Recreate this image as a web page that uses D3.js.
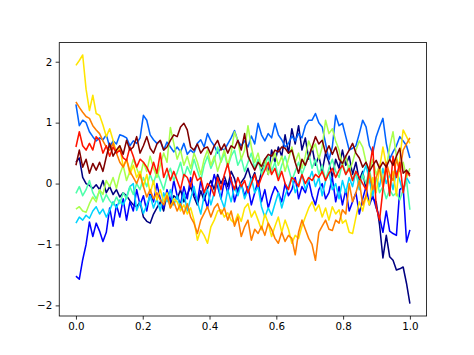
<!DOCTYPE html>
<html>
<head>
<meta charset="utf-8">
<script src="https://cdn.jsdelivr.net/npm/d3@7"></script>
<style>
  body { margin: 0; background: #fff; }
  .axis text { font-family: "DejaVu Sans", sans-serif; font-size: 10.3px; fill: #000; }
  .axis line { stroke: #000; stroke-width: 0.8px; }
</style>
</head>
<body>
<div id="chart"></div>
<script>
// tick labels
var xTicks = [0.0, 0.2, 0.4, 0.6, 0.8, 1.0];
var yTicks = [-2, -1, 0, 1, 2];

// jet colormap, one colour per line (drawn in this order)
var lineColors = ["#000080", "#0000ff", "#0063ff", "#00d4ff", "#4dffaa",
                  "#a9ff4d", "#ffe500", "#ff7d00", "#ff1400", "#800000"];

// 100 samples per line, x from 0 to 1
var navy = [0.35, 0.42, 0.10, 0.00, -0.03, -0.08, -0.02, -0.10, 0.05, -0.15,
  -0.05, -0.18, -0.10, -0.22, -0.15, -0.20, -0.28, -0.35, -0.38, -0.30,
  -0.55, -0.62, -0.65, -0.50, -0.40, -0.30, -0.45, -0.15, -0.35, -0.20,
  -0.25, -0.10, -0.30, -0.18, -0.05, -0.22, -0.35, -0.12, -0.28, -0.08,
  0.05, -0.10, 0.15, 0.00, 0.12, -0.05, 0.20, 0.08, -0.15, 0.02,
  0.10, 0.25, 0.05, 0.18, -0.05, 0.20, 0.40, 0.15, 0.55, 0.35,
  0.60, 0.45, 0.80, 0.50, 0.90, 0.65, 0.95, 0.55, 0.75, 0.40,
  0.60, 0.30, 0.45, 0.20, 0.50, 0.35, 0.10, 0.40, 0.25, 0.55,
  0.30, 0.45, 0.15, 0.35, 0.05, 0.20, -0.10, 0.15, -0.25, -0.30,
  -0.68, -1.22, -0.85, -1.20, -1.26, -1.42, -1.40, -1.37, -1.64, -1.97];

var blue = [-1.52, -1.57, -1.25, -1.00, -0.63, -0.87, -0.65, -0.78, -0.95, -0.80,
  -0.40, -0.70, -0.35, -0.55, -0.25, -0.60, -0.30, -0.45, -0.10, -0.35,
  -0.20, -0.45, -0.15, -0.30, 0.00, -0.25, -0.40, -0.10, -0.30, 0.05,
  -0.20, -0.35, -0.05, -0.25, 0.10, -0.15, -0.30, 0.05, -0.20, -0.40,
  -0.10, 0.15, -0.05, -0.25, 0.05, -0.15, 0.10, -0.30, -0.10, 0.00,
  -0.20, -0.05, -0.35, -0.15, 0.05, -0.30, -0.10, -0.40, -0.20, -0.05,
  -0.15, -0.30, 0.00, -0.20, -0.10, 0.10, -0.25, -0.05, -0.15, 0.05,
  -0.20, -0.35, -0.10, 0.00, -0.25, -0.15, 0.10, -0.30, -0.05, -0.35,
  -0.10, -0.45, -0.30, -0.15, -0.50, -0.25, -0.05, -0.35, -0.20, -0.40,
  -0.55, -0.80, -0.45, -0.78, -0.82, -0.85, -0.10, -0.05, -0.96, -0.76];

var azure = [1.30, 0.95, 1.04, 1.00, 0.85, 0.77, 0.70, 0.75, 0.72, 0.80,
  0.60, 0.70, 0.65, 0.80, 0.78, 0.75, 0.62, 0.70, 0.66, 0.75,
  1.12, 1.04, 0.80, 0.72, 0.66, 0.70, 0.55, 0.68, 0.60, 0.52,
  0.60, 0.52, 0.66, 0.48, 0.55, 0.50, 0.66, 0.72, 0.60, 0.82,
  0.70, 0.62, 0.50, 0.58, 0.55, 0.65, 0.75, 0.87, 0.70, 0.62,
  0.70, 0.60, 0.78, 0.65, 0.99, 0.80, 0.70, 0.82, 0.75, 0.99,
  0.80, 0.72, 0.60, 0.66, 0.78, 0.70, 0.82, 0.75, 0.95, 1.04,
  1.04, 1.15, 1.00, 0.93, 0.66, 0.39, 0.60, 1.12, 0.95, 0.99,
  0.77, 0.55, 0.58, 0.62, 0.82, 1.04, 0.93, 0.62, 0.50, 0.77,
  0.93, 1.07, 0.66, 0.40, 0.52, 0.62, 0.77, 0.70, 0.62, 0.42];

var cyan = [-0.65, -0.55, -0.60, -0.52, -0.57, -0.45, -0.38, -0.50, -0.42, -0.55,
  -0.44, -0.30, -0.40, -0.27, -0.35, -0.22, -0.05, 0.00, -0.44, -0.30,
  -0.49, -0.35, -0.20, -0.40, -0.25, -0.45, -0.15, -0.30, -0.10, -0.35,
  -0.20, -0.40, -0.15, -0.45, -0.25, -0.05, -0.30, -0.50, -0.20, -0.10,
  -0.35, -0.15, 0.05, -0.25, -0.40, -0.10, -0.30, -0.05, -0.20, 0.00,
  -0.25, -0.10, 0.09, -0.15, -0.05, -0.38, -0.55, -0.40, -0.52, -0.33,
  -0.15, -0.40, -0.20, -0.05, 0.10, -0.15, 0.00, 0.15, -0.10, 0.05,
  0.20, -0.05, 0.10, -0.20, 0.05, 0.20, -0.10, 0.00, -0.25, 0.05,
  -0.15, 0.10, -0.05, 0.20, -0.10, 0.15, 0.30, 0.05, -0.20, 0.10,
  -0.05, 0.25, 0.00, 0.15, -0.10, 0.20, 0.05, -0.15, 0.10, 0.00];

var aqua = [-0.16, -0.05, -0.20, -0.10, 0.05, -0.15, -0.25, -0.12, -0.30, -0.18,
  -0.28, -0.35, -0.22, -0.33, -0.15, -0.25, -0.05, -0.18, 0.00, -0.10,
  0.10, -0.05, 0.15, 0.00, 0.20, 0.05, -0.10, 0.12, 0.25, 0.05,
  0.18, 0.35, 0.10, 0.28, 0.15, 0.40, 0.22, 0.05, 0.30, 0.45,
  0.25, 0.38, 0.60, 0.35, 0.50, 0.27, 0.45, 0.55, 0.30, 0.42,
  0.20, 0.35, 0.50, 0.25, 0.40, 0.15, 0.30, 0.45, 0.20, 0.35,
  0.10, 0.30, 0.45, 0.25, 0.05, 0.20, 0.35, 0.15, 0.30, 0.50,
  0.25, 0.40, 0.15, 0.30, 0.05, 0.25, 0.40, 0.20, 0.10, 0.35,
  0.15, 0.30, 0.05, 0.20, -0.05, 0.15, 0.00, 0.25, -0.10, 0.10,
  -0.15, -0.05, -0.25, -0.10, -0.20, -0.15, -0.27, -0.10, 0.05, -0.43];

var lime = [-0.42, -0.38, -0.45, -0.47, -0.33, -0.22, -0.30, -0.10, -0.18, 0.05,
  -0.05, 0.10, -0.08, 0.15, 0.30, 0.05, 0.20, 0.40, 0.25, 0.10,
  0.35, 0.20, 0.45, 0.25, 0.10, 0.30, 0.50, 0.35, 0.92, 0.66,
  0.40, 0.55, 0.30, 0.45, 0.25, 0.50, 0.35, 0.15, 0.40, 0.55,
  0.30, 0.45, 0.20, 0.38, 0.55, 0.30, 0.50, 0.85, 0.70, 0.40,
  0.55, 0.95, 0.60, 0.35, 0.50, 0.25, 0.40, 0.15, 0.35, 0.50,
  0.30, 0.45, 0.20, 0.40, 0.60, 0.35, 0.50, 0.25, 0.45, 0.70,
  0.55, 0.65, 0.40, 0.60, 1.04, 0.82, 0.90, 0.70, 0.55, 0.30,
  0.45, 0.20, 0.35, 0.55, 0.70, 0.60, 0.35, 0.20, 0.40, 0.15,
  0.30, 0.05, 0.25, 0.60, 0.85, 0.45, 0.20, 0.35, 0.10, 0.25];

var yellow = [1.94, 2.02, 2.11, 1.55, 1.20, 1.45, 1.15, 1.12, 0.96, 0.77,
  0.90, 0.71, 0.50, 0.62, 0.27, 0.40, 0.15, 0.30, 0.10, 0.20,
  -0.05, 0.15, -0.16, 0.05, -0.27, -0.10, -0.30, -0.15, -0.40, -0.25,
  -0.30, -0.45, -0.35, -0.50, -0.40, -0.60, -0.93, -0.76, -0.85, -0.98,
  -0.71, -0.60, -0.45, -0.43, -0.55, -0.48, -0.60, -0.65, -0.50, -0.62,
  -0.40, -0.33, -0.55, -0.45, -0.60, -0.76, -0.50, -0.65, -0.87, -0.70,
  -0.55, -0.80, -0.60, -0.75, -0.98, -0.85, -0.90, -0.70, -0.55, -0.40,
  -0.30, -0.45, -0.35, -0.55, -0.40, -0.60, -0.38, -0.50, -0.43, -0.65,
  -0.60, -0.80, -0.82, -0.55, -0.30, -0.45, -0.20, -0.35, 0.10, -0.15,
  0.25, 0.60, 0.30, -0.10, 0.20, -0.20, 0.40, 0.88, 0.77, 0.66];

var orange = [1.34, 1.25, 1.17, 1.10, 1.07, 0.95, 0.88, 0.82, 0.70, 0.60,
  0.55, 0.66, 0.50, 0.35, 0.27, 0.40, 0.20, 0.10, 0.00, 0.15,
  -0.05, -0.22, -0.10, -0.25, -0.15, -0.27, -0.35, -0.20, -0.40, -0.30,
  -0.45, -0.33, -0.50, -0.33, -0.55, -0.65, -0.82, -0.60, -0.49, -0.38,
  -0.55, -0.40, -0.33, -0.50, -0.40, -0.60, -0.45, -0.70, -0.55, -0.87,
  -0.71, -0.60, -0.93, -0.75, -0.82, -0.70, -0.85, -0.65, -0.75, -0.90,
  -0.98, -0.80, -0.95, -0.85, -0.90, -1.17, -0.80, -0.60, -0.75, -0.90,
  -1.00, -1.26, -0.80, -0.70, -0.60, -0.75, -0.77, -0.60, -0.65, -0.43,
  -0.50, 0.00, -0.30, -0.15, 0.05, -0.35, -0.20, 0.17, -0.10, 0.10,
  0.25, -0.05, 0.35, 0.15, 0.05, 0.40, 0.20, 0.55, 0.65, 0.75];

var red = [0.60, 0.85, 0.62, 0.55, 0.66, 0.55, 0.77, 0.71, 0.50, 0.62,
  0.45, 0.60, 0.50, 0.55, 0.42, 0.38, 0.60, 0.45, 0.27, 0.40,
  0.35, 0.27, 0.15, 0.35, 0.17, 0.50, 0.10, 0.25, 0.05, 0.20,
  0.05, -0.10, 0.15, 0.10, -0.05, 0.20, 0.05, 0.10, -0.15, 0.00,
  -0.05, -0.20, 0.10, -0.10, 0.15, 0.33, 0.05, -0.10, 0.10, -0.05,
  0.05, -0.15, 0.00, 0.15, -0.05, 0.10, 0.22, 0.35, 0.15, 0.25,
  0.05, 0.20, 0.00, -0.10, 0.10, 0.05, -0.05, 0.15, 0.00, 0.10,
  0.05, 0.15, 0.10, 0.20, 0.05, 0.17, 0.25, 0.10, 0.22, 0.30,
  0.15, 0.25, 0.05, 0.20, 0.10, 0.00, -0.10, 0.25, 0.60, -0.38,
  -0.60, -0.10, 0.30, -0.20, 0.45, 0.10, 0.35, -0.15, 0.20, 0.12];

var maroon = [0.30, 0.55, 0.27, 0.40, 0.17, 0.33, 0.22, 0.35, 0.20, 0.44,
  0.66, 0.45, 0.55, 0.62, 0.48, 0.71, 0.55, 0.60, 0.77, 0.50,
  0.62, 0.77, 0.58, 0.50, 0.65, 0.71, 0.55, 0.60, 0.71, 0.80,
  0.77, 0.93, 0.99, 0.88, 0.60, 0.55, 0.65, 0.50, 0.58, 0.60,
  0.48, 0.62, 0.71, 0.55, 0.65, 0.50, 0.62, 0.58, 0.71, 0.55,
  0.82, 0.45, 0.33, 0.22, 0.35, 0.28, 0.40, 0.48, 0.45, 0.55,
  0.52, 0.60, 0.58, 0.50, 0.55, 0.35, 0.17, 0.40, 0.30, 0.45,
  0.60, 0.77, 0.65, 0.71, 0.50, 0.62, 0.48, 0.60, 0.40, 0.33,
  0.45, 0.55, 0.66, 0.50, 0.42, 0.27, 0.35, 0.20, 0.30, 0.38,
  0.25, 0.35, 0.27, 0.40, 0.30, 0.45, 0.58, 0.17, 0.22, 0.15];

var allSeries = [navy, blue, azure, cyan, aqua, lime, yellow, orange, red, maroon];

function draw_lines() {
  var width = 474;
  var height = 355;

  // axes box in pixels (matplotlib default subplot position)
  var box = { left: 59.25, right: 426.6, top: 42.6, bottom: 316 };

  var svg = d3.select("#chart")
    .append("svg")
    .attr("width", width)
    .attr("height", height);

  var n = navy.length;
  var xs = d3.range(n).map(i => i / (n - 1));

  // 5% margins like matplotlib autoscale
  var ymin = d3.min(allSeries, s => d3.min(s));
  var ymax = d3.max(allSeries, s => d3.max(s));
  var ypad = (ymax - ymin) * 0.05;

  var xScale = d3.scaleLinear().domain([-0.05, 1.05]).range([box.left, box.right]);
  var yScale = d3.scaleLinear().domain([ymin - ypad, ymax + ypad]).range([box.bottom, box.top]);

  var clip = svg.append("clipPath").attr("id", "clip")
    .append("rect")
    .attr("x", box.left).attr("y", box.top)
    .attr("width", box.right - box.left)
    .attr("height", box.bottom - box.top);

  var line = d3.line()
    .x((d, i) => xScale(xs[i]))
    .y(d => yScale(d));

  // one path per series, first drawn at the bottom
  svg.append("g")
    .attr("clip-path", "url(#clip)")
    .selectAll("path")
    .data(allSeries)
    .enter()
    .append("path")
    .attr("d", line)
    .attr("fill", "none")
    .attr("stroke", (d, i) => lineColors[i])
    .attr("stroke-width", 1.55)
    .attr("stroke-linejoin", "round");

  // x axis
  var xAxis = d3.axisBottom(xScale)
    .tickValues(xTicks)
    .tickFormat(d3.format(".1f"))
    .tickSize(3.6)
    .tickPadding(3.4);
  svg.append("g")
    .attr("class", "x axis")
    .attr("transform", `translate(0,${box.bottom})`)
    .call(xAxis)
    .call(g => g.select(".domain").remove());

  // y axis
  var yAxis = d3.axisLeft(yScale)
    .tickValues(yTicks)
    .tickFormat(d3.format("d"))
    .tickSize(3.6)
    .tickPadding(3.4);
  svg.append("g")
    .attr("class", "y axis")
    .attr("transform", `translate(${box.left},0)`)
    .call(yAxis)
    .call(g => g.select(".domain").remove());

  // spines
  svg.append("rect")
    .attr("x", box.left)
    .attr("y", box.top)
    .attr("width", box.right - box.left)
    .attr("height", box.bottom - box.top)
    .attr("fill", "none")
    .attr("stroke", "#000")
    .attr("stroke-width", 0.8);
}

draw_lines();
</script>
</body>
</html>
